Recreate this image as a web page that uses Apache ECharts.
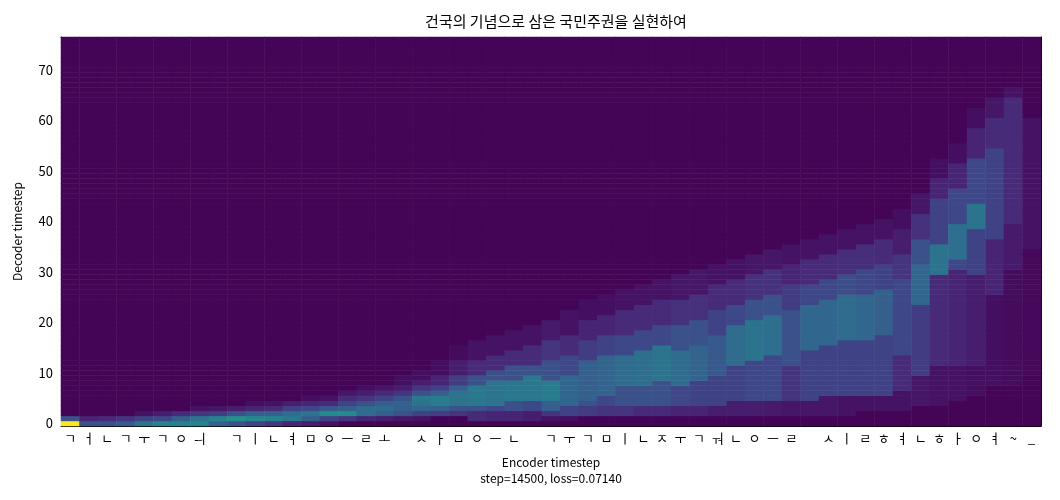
<!DOCTYPE html>
<html><head><meta charset="utf-8">
<script src="https://cdn.jsdelivr.net/npm/echarts@6/dist/echarts.min.js"></script>
<style>html,body{margin:0;padding:0;background:#fff}#c{width:1060px;height:500px}</style>
</head><body><div id="c"></div>
<script>
const titleText = '건국의 기념으로 삼은 국민주권을 실현하여';
const xLabels = ['ㄱ','ㅓ','ㄴ','ㄱ','ㅜ','ㄱ','ㅇ','ㅢ',' ','ㄱ','ㅣ','ㄴ','ㅕ','ㅁ','ㅇ','ㅡ','ㄹ','ㅗ',' ','ㅅ','ㅏ','ㅁ','ㅇ','ㅡ','ㄴ',' ','ㄱ','ㅜ','ㄱ','ㅁ','ㅣ','ㄴ','ㅈ','ㅜ','ㄱ','ㅝ','ㄴ','ㅇ','ㅡ','ㄹ',' ','ㅅ','ㅣ','ㄹ','ㅎ','ㅕ','ㄴ','ㅎ','ㅏ','ㅇ','ㅕ','~','_'];
const nRows = 77;
const background = 0.01;
// per encoder column: bands [fromRow, toRow, attention]
const bands = [
[[0,0,1],[1,1,0.25]],
[[0,0,0.25],[1,1,0.1]],
[[0,0,0.25],[1,1,0.12]],
[[0,0,0.28],[1,1,0.15]],
[[0,0,0.38],[1,1,0.2],[2,2,0.05]],
[[0,0,0.45],[1,1,0.22],[2,2,0.08]],
[[0,0,0.45],[1,1,0.3],[2,2,0.12]],
[[0,0,0.45],[1,1,0.38],[2,2,0.15],[3,3,0.05]],
[[0,0,0.3],[1,1,0.45],[2,2,0.18],[3,3,0.06]],
[[0,0,0.25],[1,1,0.5],[2,2,0.25],[3,3,0.08]],
[[0,0,0.2],[1,1,0.47],[2,2,0.3],[3,3,0.1],[4,4,0.04]],
[[0,0,0.15],[1,1,0.45],[2,2,0.3],[3,3,0.12],[4,4,0.05]],
[[0,0,0.1],[1,1,0.4],[2,2,0.35],[3,3,0.2],[4,4,0.08]],
[[0,0,0.08],[1,1,0.3],[2,2,0.38],[3,3,0.22],[4,4,0.1],[5,5,0.04]],
[[0,0,0.05],[1,1,0.2],[2,2,0.48],[3,3,0.28],[4,4,0.12],[5,5,0.05]],
[[1,1,0.15],[2,2,0.48],[3,3,0.3],[4,4,0.2],[5,5,0.12],[6,6,0.06]],
[[1,1,0.1],[2,2,0.35],[3,3,0.35],[4,4,0.25],[5,5,0.15],[6,6,0.08],[7,7,0.04]],
[[1,1,0.08],[2,2,0.3],[3,3,0.35],[4,4,0.3],[5,5,0.2],[6,6,0.12],[7,7,0.06]],
[[1,1,0.06],[2,2,0.25],[3,3,0.3],[4,4,0.32],[5,5,0.25],[6,6,0.15],[7,7,0.08],[8,9,0.04]],
[[1,1,0.05],[2,2,0.2],[3,3,0.32],[4,4,0.38],[5,5,0.4],[6,6,0.25],[7,7,0.15],[8,8,0.08],[9,10,0.04]],
[[2,2,0.18],[3,3,0.3],[4,5,0.42],[6,6,0.3],[7,7,0.2],[8,9,0.1],[10,12,0.04]],
[[2,2,0.15],[3,3,0.25],[4,6,0.38],[7,7,0.3],[8,9,0.18],[10,12,0.08],[13,15,0.03]],
[[1,2,0.12],[3,3,0.25],[4,7,0.4],[8,9,0.25],[10,12,0.12],[13,16,0.05]],
[[1,2,0.1],[3,3,0.22],[4,8,0.38],[9,10,0.25],[11,13,0.12],[14,17,0.05]],
[[1,2,0.1],[3,4,0.25],[5,8,0.4],[9,11,0.25],[12,14,0.12],[15,18,0.05]],
[[1,2,0.08],[3,4,0.22],[5,9,0.4],[10,11,0.25],[12,15,0.12],[16,19,0.05]],
[[1,1,0.05],[2,2,0.15],[3,4,0.3],[5,8,0.42],[9,12,0.25],[13,16,0.15],[17,20,0.07]],
[[1,1,0.04],[2,3,0.2],[4,9,0.33],[10,13,0.22],[14,17,0.12],[18,22,0.05]],
[[2,3,0.18],[4,4,0.25],[5,12,0.3],[13,16,0.18],[17,20,0.1],[21,24,0.04]],
[[2,3,0.15],[4,5,0.22],[6,13,0.32],[14,17,0.2],[18,21,0.1],[22,25,0.04]],
[[2,3,0.15],[4,7,0.25],[8,13,0.35],[14,17,0.22],[18,22,0.12],[23,26,0.05]],
[[2,3,0.12],[4,7,0.25],[8,14,0.36],[15,18,0.22],[19,23,0.12],[24,27,0.05]],
[[2,3,0.12],[4,8,0.25],[9,15,0.38],[16,19,0.22],[20,24,0.12],[25,28,0.05]],
[[2,3,0.1],[4,7,0.22],[8,14,0.35],[15,19,0.25],[20,24,0.14],[25,29,0.06]],
[[2,3,0.1],[4,8,0.2],[9,15,0.32],[16,20,0.25],[21,25,0.14],[26,30,0.06]],
[[2,3,0.08],[4,9,0.2],[10,17,0.28],[18,22,0.2],[23,27,0.12],[28,31,0.05]],
[[2,4,0.08],[5,11,0.2],[12,19,0.35],[20,23,0.22],[24,28,0.12],[29,32,0.05]],
[[2,4,0.08],[5,12,0.22],[13,20,0.38],[21,24,0.25],[25,29,0.14],[30,33,0.06]],
[[2,4,0.07],[5,13,0.22],[14,21,0.36],[22,25,0.25],[26,30,0.14],[31,34,0.06]],
[[2,4,0.06],[5,11,0.15],[12,22,0.25],[23,27,0.18],[28,31,0.1],[32,35,0.05]],
[[2,4,0.06],[5,14,0.2],[15,23,0.33],[24,27,0.22],[28,32,0.12],[33,36,0.05]],
[[2,5,0.06],[6,15,0.2],[16,24,0.33],[25,28,0.22],[29,33,0.12],[34,37,0.05]],
[[2,5,0.05],[6,16,0.2],[17,25,0.35],[26,29,0.24],[30,34,0.13],[35,38,0.05]],
[[3,5,0.05],[6,16,0.2],[17,25,0.33],[26,30,0.22],[31,35,0.13],[36,39,0.05]],
[[3,5,0.05],[6,17,0.2],[18,26,0.3],[27,31,0.2],[32,36,0.12],[37,40,0.05]],
[[3,6,0.05],[7,13,0.12],[14,28,0.22],[29,33,0.15],[34,38,0.08],[39,42,0.04]],
[[4,9,0.06],[10,23,0.18],[24,31,0.33],[32,36,0.25],[37,41,0.14],[42,45,0.06]],
[[4,11,0.05],[12,29,0.12],[30,35,0.38],[36,44,0.2],[45,48,0.1],[49,52,0.04]],
[[5,11,0.05],[12,30,0.1],[31,32,0.22],[33,39,0.36],[40,46,0.22],[47,51,0.1],[52,55,0.04]],
[[6,11,0.04],[12,29,0.08],[30,38,0.2],[39,43,0.38],[44,52,0.22],[53,58,0.1],[59,62,0.04]],
[[8,25,0.04],[26,36,0.1],[37,54,0.2],[55,60,0.12],[61,64,0.06]],
[[8,30,0.03],[31,39,0.07],[40,64,0.12],[65,66,0.05]],
[[10,34,0.02],[35,60,0.05]]
];
const yLabels = Array.from({length:nRows},(_,i)=>String(i));
const data = [];
bands.forEach((bs,x)=>{
  const col = new Array(nRows).fill(background);
  bs.forEach(([a,b,v])=>{for(let r=a;r<=b;r++) col[r]=v;});
  col.forEach((v,y)=>data.push([x,y,v]));
});
const font = '"Noto Sans CJK KR","Noto Sans",sans-serif';
const chart = echarts.init(document.getElementById('c'));
chart.setOption({
  animation:false,
  title:{text:titleText,left:551,top:9,textAlign:'center',textStyle:{fontFamily:font,fontSize:15,fontWeight:'normal',color:'#000'}},
  grid:{left:61,right:19,top:37,bottom:74},
  xAxis:[{type:'category',data:xLabels,position:'bottom',
    axisLine:{lineStyle:{color:'#000'}},axisTick:{alignWithLabel:true,interval:0,length:4,lineStyle:{color:'#000'}},
    axisLabel:{interval:0,color:'#000',fontFamily:font,fontSize:13,margin:6},
    name:'Encoder timestep\nstep=14500, loss=0.07140',nameLocation:'middle',nameGap:28,
    nameTextStyle:{fontFamily:font,fontSize:12,color:'#000',lineHeight:16}},
    {type:'category',data:xLabels,position:'top',axisLine:{show:true,lineStyle:{color:'#000'}},axisTick:{show:false},axisLabel:{show:false}}],
  yAxis:[{type:'category',data:yLabels,
    axisLine:{lineStyle:{color:'#000'}},
    axisTick:{alignWithLabel:true,interval:(i)=>i%10===0,length:4,lineStyle:{color:'#000'}},
    axisLabel:{interval:(i)=>i%10===0,color:'#000',fontFamily:font,fontSize:13,margin:8},
    name:'Decoder timestep',nameLocation:'middle',nameGap:38,nameRotate:90,
    nameTextStyle:{fontFamily:font,fontSize:12,color:'#000'}},
    {type:'category',data:yLabels,position:'right',axisLine:{show:true,lineStyle:{color:'#000'}},axisTick:{show:false},axisLabel:{show:false}}],
  visualMap:{show:false,min:0,max:1,dimension:2,
    inRange:{color:['#440154','#482878','#3e4989','#31688e','#26828e','#1f9e89','#35b779','#6ece58','#b5de2b','#fde725']}},
  series:[{type:'heatmap',data:data,progressive:0,emphasis:{disabled:true},itemStyle:{borderWidth:0}}]
});
</script></body></html>
